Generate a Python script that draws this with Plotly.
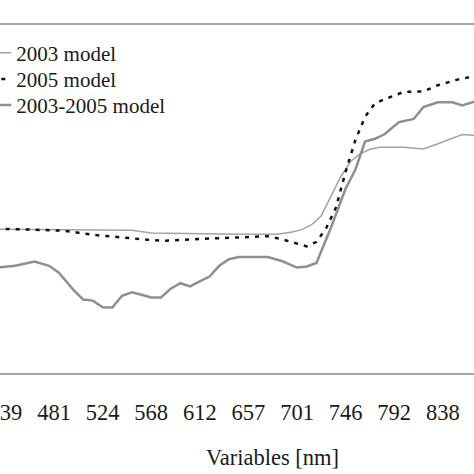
import plotly.graph_objects as go

# Variable index (band number) and tick labels (wavelength, nm)
tick_index = [2, 12, 22, 32, 42, 52, 62, 72, 82, 92]
tick_labels = ["439", "481", "524", "568", "612", "657", "701", "746", "792", "838"]

# 2003 model
idx_2003 = [0, 10, 20, 24, 28, 32, 40, 50, 58, 61, 63, 65, 67, 69, 71, 73, 75, 77, 79, 84, 88, 91, 94, 96, 99]
val_2003 = [41.3, 41.2, 40.9, 41.0, 41.0, 40.2, 40.0, 39.9, 39.9, 40.5, 41.2, 42.6, 45.2, 50.9, 56.4, 60.7,
            63.0, 64.3, 64.9, 64.9, 64.4, 65.9, 67.5, 68.5, 68.3]

# 2005 model
idx_2005 = [0, 10, 14, 20, 24, 28, 32, 35, 40, 46, 50, 56, 59, 62, 64, 66, 68, 70, 72, 74, 76, 78, 80, 82, 84,
            88, 91, 95, 99]
val_2005 = [41.5, 41.2, 40.9, 39.7, 39.3, 38.7, 38.2, 38.0, 38.4, 38.7, 38.8, 39.3, 38.4, 37.1, 36.4, 37.7,
            41.6, 47.5, 57.8, 66.9, 73.6, 77.4, 78.7, 79.7, 80.8, 80.9, 82.7, 84.3, 85.4]

# 2003-2005 model
idx_0305 = [0, 4, 8, 11, 13, 16, 18, 20, 22, 24, 26, 28, 30, 32, 34, 36, 38, 40, 42, 44, 46, 48, 50, 56, 59,
            62, 64, 66, 69, 72, 74, 76, 78, 80, 83, 86, 88, 91, 94, 96, 99]
val_0305 = [30.3, 30.8, 32.0, 30.8, 28.8, 23.9, 21.1, 20.8, 18.9, 18.8, 22.2, 23.2, 22.5, 21.7, 21.7, 24.2,
            25.8, 24.9, 26.3, 27.7, 30.8, 32.7, 33.3, 33.3, 32.1, 30.3, 30.6, 31.6, 41.8, 53.0, 58.4, 66.5,
            67.3, 68.6, 72.1, 73.0, 76.4, 77.8, 77.8, 76.9, 78.2]

FONT = "Liberation Serif, Times New Roman, serif"
TXT = "#1a1a1a"

fig = go.Figure()
fig.add_trace(go.Scatter(x=idx_2003, y=val_2003, mode="lines", name="2003 model", legend="legend",
                         line=dict(color="#a3a3a3", width=1.5)))
fig.add_trace(go.Scatter(x=idx_2005, y=val_2005, mode="lines", name="2005 model", legend="legend2",
                         line=dict(color="#111111", width=2.5, dash="4px,6px")))
fig.add_trace(go.Scatter(x=idx_0305, y=val_0305, mode="lines", name="2003-2005 model", legend="legend3",
                         line=dict(color="#8f8f8f", width=2.5)))

def leg(y):
    return dict(x=-0.05, y=y, xanchor="left", yanchor="top",
                font=dict(family=FONT, size=21, color=TXT),
                bgcolor="rgba(0,0,0,0)", borderwidth=0)

fig.update_layout(
    width=474, height=474,
    margin=dict(l=0, r=0, t=25, b=101, autoexpand=False),
    paper_bgcolor="white", plot_bgcolor="white",
    font=dict(family=FONT, color=TXT),
    showlegend=True,
    legend=leg(0.978), legend2=leg(0.903), legend3=leg(0.828),
    xaxis=dict(range=[0.89, 98.42], tickmode="array", tickvals=tick_index, ticktext=tick_labels,
               showgrid=False, zeroline=False, showline=True, mirror=True,
               linecolor="#a6a6a6", linewidth=1.5, ticks="", ticklabelstandoff=18,
               ticklabeloverflow="allow",
               tickfont=dict(family=FONT, size=22.5, color=TXT), automargin=False),
    yaxis=dict(range=[0, 100], showgrid=False, zeroline=False, showline=False,
               showticklabels=False, ticks="", automargin=False),
    annotations=[dict(text="Variables [nm]", xref="paper", yref="paper", x=0.574, y=-0.243,
                      xanchor="center", yanchor="middle", showarrow=False,
                      font=dict(family=FONT, size=22.5, color=TXT))],
)

fig.write_html("out.html")
